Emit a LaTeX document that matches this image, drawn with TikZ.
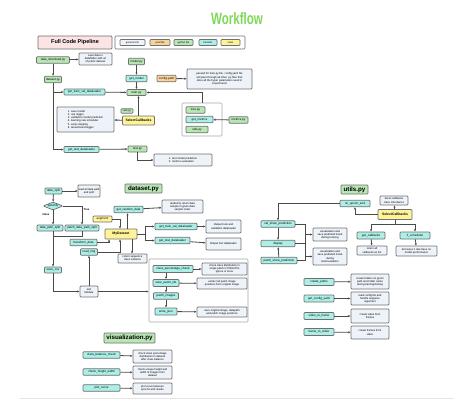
\documentclass[tikz,border=0pt]{standalone}
\usepackage{fontspec}
\setmainfont{Liberation Sans}
\usetikzlibrary{arrows.meta,shapes.geometric}

\definecolor{wfgreen}{HTML}{7ED957}
\definecolor{boxgray}{HTML}{707070}
\definecolor{linegray}{HTML}{4A4A4A}
\definecolor{infofill}{HTML}{EEF3FA}
\definecolor{yamlfill}{HTML}{F8D49B}
\definecolor{pyfill}{HTML}{B9E6B5}
\definecolor{funcfill}{HTML}{ABEFE6}
\definecolor{clsfill}{HTML}{FFF39A}
\definecolor{pinkfill}{HTML}{FCE4E4}

\newcommand\fnode{\fontsize{3}{3.5}\selectfont}
\newcommand\finfo{\fontsize{2.7}{3.2}\selectfont}
\newcommand\fhead{\fontsize{6.2}{7}\selectfont\bfseries}
\newcommand\fleg{\fontsize{2.5}{3}\selectfont}

\tikzset{
  box/.style={draw=boxgray, line width=0.7pt, rounded corners=0.8pt, inner sep=0.5pt, align=center, font=\fnode},
  info/.style={box, fill=infofill, font=\finfo},
  yaml/.style={box, fill=yamlfill},
  pyfile/.style={box, fill=pyfill},
  func/.style={box, fill=funcfill},
  cls/.style={box, fill=clsfill, font=\fontsize{3.4}{4}\selectfont\bfseries},
  heading/.style={box, fill=pyfill, font=\fhead},
  grp/.style={draw=boxgray!60, line width=0.6pt, rounded corners=1pt, fill=white},
  legbox/.style={box, font=\fleg, minimum height=6},
  link/.style={draw=linegray, line width=0.8pt, -{Latex[length=2.2pt,width=2.2pt]}},
  plain/.style={draw=linegray, line width=0.8pt},
}

\begin{document}
\begin{tikzpicture}[x=1pt,y=-1pt]
\fill[white] (0,0) rectangle (474,408);
\useasboundingbox (0,0) rectangle (474,408);

% title and legend
\node[font=\fontsize{16.5}{16.5}\selectfont\bfseries, text=wfgreen] (title) at (237,19) {\scalebox{0.7}[1]{Workflow}};
\node[box, fill=pinkfill, font=\fontsize{5.5}{6}\selectfont\bfseries, minimum width=74, minimum height=13] (pipeline) at (75,42.5) {Full Code Pipeline};
\node[grp, draw=boxgray, minimum width=130, minimum height=13] (legend) at (180,42.5) {};
\node[legbox, fill=infofill, minimum width=25] (leginfo) at (132.5,42.5) {general info};
\node[legbox, fill=yamlfill, minimum width=20] (legyaml) at (160,42.5) {yaml file};
\node[legbox, fill=pyfill, minimum width=19] (legpy) at (183.5,42.5) {python file};
\node[legbox, fill=funcfill, minimum width=18] (legfunc) at (208,42.5) {function};
\node[legbox, fill=clsfill, minimum width=19] (legcls) at (230.5,42.5) {class};

% full code pipeline
\node[pyfile, minimum width=33, minimum height=6.5] (dl_py) at (53,60) {data\_download.py};
\node[info, minimum width=33, minimum height=12] (dl_info) at (95.5,59) {save data in\\datafolder with url\\of public dataset};
\node[pyfile, minimum width=17, minimum height=6.5] (ds_py) at (53,79.5) {dataset.py};
\node[func, minimum width=41, minimum height=6] (trval_dl) at (84.5,92) {get\_train\_val\_dataloader};
\node[pyfile, minimum width=16, minimum height=6.5] (model_py) at (136.5,61.5) {model.py};
\node[func, minimum width=21, minimum height=6.5] (get_model) at (136.5,78.5) {get\_model};
\node[yaml, minimum width=19, minimum height=6.5] (config) at (166.5,78.5) {config.yaml};
\node[info, minimum width=65, minimum height=20] (config_info) at (219.5,79) {passed for train.py file. config.yaml file\\will pass through all other .py files that\\store all the hyper parameters used in\\experiments};
\node[pyfile, minimum width=19, minimum height=6] (train_py) at (136.5,92.5) {train.py};
\node[grp, minimum width=40, minimum height=33] (lossgrp) at (202,119.5) {};
\node[pyfile, minimum width=19, minimum height=6.5] (loss_py) at (195.5,110) {loss.py};
\node[func, minimum width=27, minimum height=6.5] (get_metrics) at (199.5,119.5) {get\_metrics};
\node[pyfile, minimum width=22, minimum height=6.5] (utils_a) at (197,129.5) {utils.py};
\node[pyfile, minimum width=19, minimum height=6.5] (metrics_py) at (238.5,120) {metrics.py};
\node[pyfile, minimum width=12, minimum height=4.5, font=\fleg] (utils_b) at (127,111) {utils.py};
\node[cls, minimum width=32, minimum height=9] (sel_cb) at (138.5,120.5) {SelectCallbacks};
\node[info, minimum width=57, minimum height=25, align=left] (cb_list) at (85.5,119.5) {1. save model\\2. use logger\\3. validation model prediction\\4. learning rate scheduler\\5. early stopping\\6. tensorboard logger};
\node[func, minimum width=35, minimum height=6] (test_dl) at (81.5,149.5) {get\_test\_dataloader};
\node[pyfile, minimum width=19, minimum height=6] (test_py) at (137.5,149) {test.py};
\node[info, minimum width=58, minimum height=12, align=left] (test_info) at (183,160) {1. test model prediction\\2. metrics evaluation};

\draw[link] (dl_py) -- (dl_info);
\draw[link] (dl_py) -- (ds_py);
\draw[link] (ds_py.south) |- (test_dl.west);
\draw[link] (ds_py.south |- trval_dl.west) -- (trval_dl.west);
\draw[link] (trval_dl) -- (train_py);
\draw[link] (model_py) -- (get_model);
\draw[link] (get_model) -- (train_py);
\draw[link] (config) -- (config_info);
\draw[link] (lossgrp.north) |- (train_py.east);
\draw[link] (metrics_py) -- (get_metrics);
\draw[link] (sel_cb.north) -- (sel_cb.north |- train_py.south);
\draw[link] (sel_cb) -- (cb_list);
\draw[link] (test_dl) -- (test_py);
\draw[link] (test_py.south) |- (test_info.west);

% dataset.py
\node[heading, minimum width=37, minimum height=9] (ds_title) at (143.5,188.5) {dataset.py};
\node[func, minimum width=17, minimum height=6] (data_split) at (53.5,191) {data\_split};
\node[info, minimum width=18, minimum height=12] (split_info) at (89,191) {read all data path\\and split};
\node[func, diamond, aspect=2.5, inner sep=0.3pt, minimum width=20, minimum height=8] (cond) at (53,206) {patchify};
\node[func, minimum width=26, minimum height=6] (path_split) at (50,228) {data\_path\_split};
\node[func, minimum width=34, minimum height=6] (ppath_split) at (82,228) {patch\_data\_path\_split};
\node[cls, font=\fnode, minimum width=19, minimum height=6] (augment) at (102.5,219) {augment};
\node[cls, minimum width=32, minimum height=10] (mydataset) at (121,234) {MyDataset};
\node[func, minimum width=29, minimum height=6.5] (get_rand) at (128.5,209.5) {get\_random\_data};
\node[info, minimum width=41, minimum height=13] (rand_info) at (182.5,206.5) {randomly return data\\sample in given data\\sample index};
\node[func, minimum width=42, minimum height=6.5] (trval_dl2) at (176,226.5) {get\_train\_val\_dataloader};
\node[func, minimum width=35, minimum height=6.5] (test_dl2) at (172.5,240.5) {get\_test\_dataloader};
\node[info, minimum width=35, minimum height=13] (trval_info) at (223.5,226.5) {Output train and\\validation dataloader};
\node[info, minimum width=35, minimum height=12] (test_info2) at (223.5,244) {Output test dataloader};
\node[func, minimum width=27, minimum height=6.5] (transform) at (83.5,242.5) {transform\_data};
\node[func, minimum width=17, minimum height=6.5] (read_img) at (89,252) {read\_img};
\node[info, minimum width=29, minimum height=9] (return_info) at (132.5,258.5) {return sequence\\class instance};
\node[func, minimum width=17, minimum height=6] (save_csv) at (53,270) {save\_csv};
\node[info, minimum width=18, minimum height=11] (test_mod) at (89,291.5) {test\\Module};

\node[font=\finfo\bfseries] (false_lbl) at (46,215) {False};
\node[font=\finfo\bfseries] (true_lbl) at (86.5,209.5) {True};

\draw[link] (data_split) -- (split_info);
\draw[link] (data_split) -- (cond);
\draw[link] (cond.south) -- (cond.south |- path_split.north);
\draw[link] (cond.east) -| (ppath_split.north);
\draw[link] (augment.east) -| ([xshift=-1]mydataset.north);
\draw[link] ([xshift=6.5]mydataset.north) -- ([xshift=6.5]mydataset.north |- get_rand.south);
\draw[link] (get_rand) -- (rand_info);
\draw[link] (mydataset.east) -- ++(8,0) |- (trval_dl2.west);
\draw[link] (mydataset.east) -- ++(8,0) |- (test_dl2.west);
\draw[link] (trval_dl2) -- (trval_info);
\draw[link] (test_dl2) -- (test_info2);
\draw[link] (transform.east) -| ([xshift=-12]mydataset.south);
\draw[link] (read_img.east) -| ([xshift=-1]mydataset.south);
\draw[link] ([xshift=11]mydataset.south) -- ([xshift=11]mydataset.south |- return_info.north);
\draw[link] (path_split.south -| cond.south) -- (save_csv.north -| cond.south);
\draw[plain] (ppath_split.south) |- (cond.south |- 0,236);
\draw[link] (save_csv.south) |- (test_mod.west);
\draw[link] (test_mod.north) -- (test_mod.north |- read_img.south);

% patch functions
\node[grp, minimum width=99, minimum height=63] (patchgrp) at (198.5,290.5) {};
\node[func, minimum width=40, minimum height=7] (cls_pct) at (173,269) {class\_percentage\_check};
\node[info, minimum width=45, minimum height=12] (pct_info) at (224.5,269) {check class distribution in\\single patch in PNG/JPG\\ignore or store};
\node[func, minimum width=26, minimum height=7] (save_idx) at (166,283) {save\_patch\_idx};
\node[info, minimum width=50, minimum height=11] (idx_info) at (222,283.5) {extract all patch image\\positions from original image};
\node[func, minimum width=25, minimum height=6.5] (patch_img) at (166,296) {patch\_images};
\node[func, minimum width=22, minimum height=7] (write_json) at (166,311.5) {write\_json};
\node[info, minimum width=50, minimum height=10] (json_info) at (222,312) {save original image, datapath\\and patch image positions};

\draw[link] (test_mod.east) -- (test_mod.east -| patchgrp.west);
\draw[link] (cls_pct) -- (pct_info);
\draw[link] (cls_pct.south -| save_idx.north) -- (save_idx.north);
\draw[link] (save_idx) -- (patch_img);
\draw[link] (patch_img) -- (write_json);
\draw[link] (save_idx) -- (idx_info);
\draw[link] (write_json) -- (json_info);

% visualization.py
\node[heading, minimum width=51, minimum height=10] (vis_title) at (129.5,338) {visualization.py};
\node[func, minimum width=37, minimum height=6.5] (cbc) at (101.5,355) {class\_balance\_check};
\node[info, minimum width=39, minimum height=13] (cbc_info) at (152.5,356.5) {check class percentage\\distribution in dataset\\after class balance};
\node[func, minimum width=37, minimum height=6.5] (chw) at (101.5,372) {check\_height\_width};
\node[info, minimum width=39, minimum height=13] (chw_info) at (152.5,372.5) {check unique height and\\width of images from\\dataset};
\node[func, minimum width=37, minimum height=6.5] (plot) at (101.5,388) {plot\_curve};
\node[info, minimum width=39, minimum height=11] (plot_info) at (152.5,388.5) {plot curve between\\epochs and results};

\draw[link] (cbc) -- (cbc_info);
\draw[link] (chw) -- (chw_info);
\draw[link] (plot) -- (plot_info);

% utils.py
\node[heading, minimum width=27, minimum height=9] (utils_title) at (354.5,189.5) {utils.py};
\node[info, minimum width=28, minimum height=9] (keras_info) at (394,200.5) {keras callbacks\\class inheritance};
\node[cls, minimum width=34, minimum height=10] (sel_cb2) at (395,214.5) {SelectCallbacks};
\node[func, minimum width=30, minimum height=6.5] (on_epoch) at (355,203.5) {on\_epoch\_end};
\node[func, minimum width=34, minimum height=6.5] (val_show) at (278,224) {val\_show\_prediction};
\node[func, minimum width=34, minimum height=6.5] (display) at (278,243.5) {display};
\node[func, minimum width=36, minimum height=6.5] (patch_show) at (279,260.5) {patch\_show\_prediction};
\node[info, minimum width=34, minimum height=13] (vis_train) at (330,234.5) {visualization and\\save predicted mask\\during training};
\node[info, minimum width=34, minimum height=17] (vis_test) at (330,256.5) {visualization and\\save predicted mask\\during\\test/evaluation};
\node[func, minimum width=28, minimum height=7] (get_cb) at (371,235.5) {get\_callbacks};
\node[func, minimum width=30, minimum height=7] (lr_sched) at (415,235.5) {lr\_scheduler};
\node[info, minimum width=30, minimum height=9] (cb_info) at (372,250.5) {return all\\callbacks as list};
\node[info, minimum width=41, minimum height=10] (lr_info) at (416.5,251) {decrease lr rate base on\\model performance};

\draw[link] (sel_cb2) -- (keras_info);
\draw[link] (sel_cb2.west) -| (on_epoch.south);
\draw[link] (on_epoch.west) -| (val_show.north);
\draw[link] (val_show) -- (display);
\draw[link] (patch_show) -- (display);
\draw[plain] (val_show.east) -- ++(10,0) -- ([xshift=8]patch_show.east);
\draw[plain] (display.east) -- ++(10,0);
\draw[plain] (patch_show.east) -- ++(8,0);
\draw[link] (vis_train.west -| 305,0) -- (vis_train.west);
\draw[link] (vis_test.west -| 305,0) -- (vis_test.west);
\draw[link] (sel_cb2.south) -- ++(0,5) -| (get_cb.north);
\draw[link] (sel_cb2.south) -- ++(0,5) -| (lr_sched.north);
\draw[link] (get_cb) -- (cb_info);
\draw[link] (lr_sched) -- (lr_info);

% helper functions
\node[func, minimum width=30, minimum height=7] (create_paths) at (319,282) {create\_paths};
\node[info, minimum width=38, minimum height=15] (paths_info) at (370,281.5) {create folders on given\\path and folder name\\during training/testing};
\node[func, minimum width=30, minimum height=7] (get_config) at (319,298.5) {get\_config\_yaml};
\node[info, minimum width=38, minimum height=13] (config_info2) at (370,298.5) {read config file and\\handle argparse\\argument};
\node[func, minimum width=30, minimum height=7] (video_frame) at (319,316) {video\_to\_frame};
\node[info, minimum width=38, minimum height=14] (vf_info) at (370,316) {create video from\\frames};
\node[func, minimum width=30, minimum height=7] (frame_video) at (319,332) {frame\_to\_video};
\node[info, minimum width=38, minimum height=13] (fv_info) at (370,332.5) {create frames from\\video};

\draw[link] (create_paths) -- (paths_info);
\draw[link] (get_config) -- (config_info2);
\draw[link] (video_frame) -- (vf_info);
\draw[link] (frame_video) -- (fv_info);

\draw[gray!20, line width=0.5pt] (20,398) -- (454,398);
\end{tikzpicture}
\end{document}
